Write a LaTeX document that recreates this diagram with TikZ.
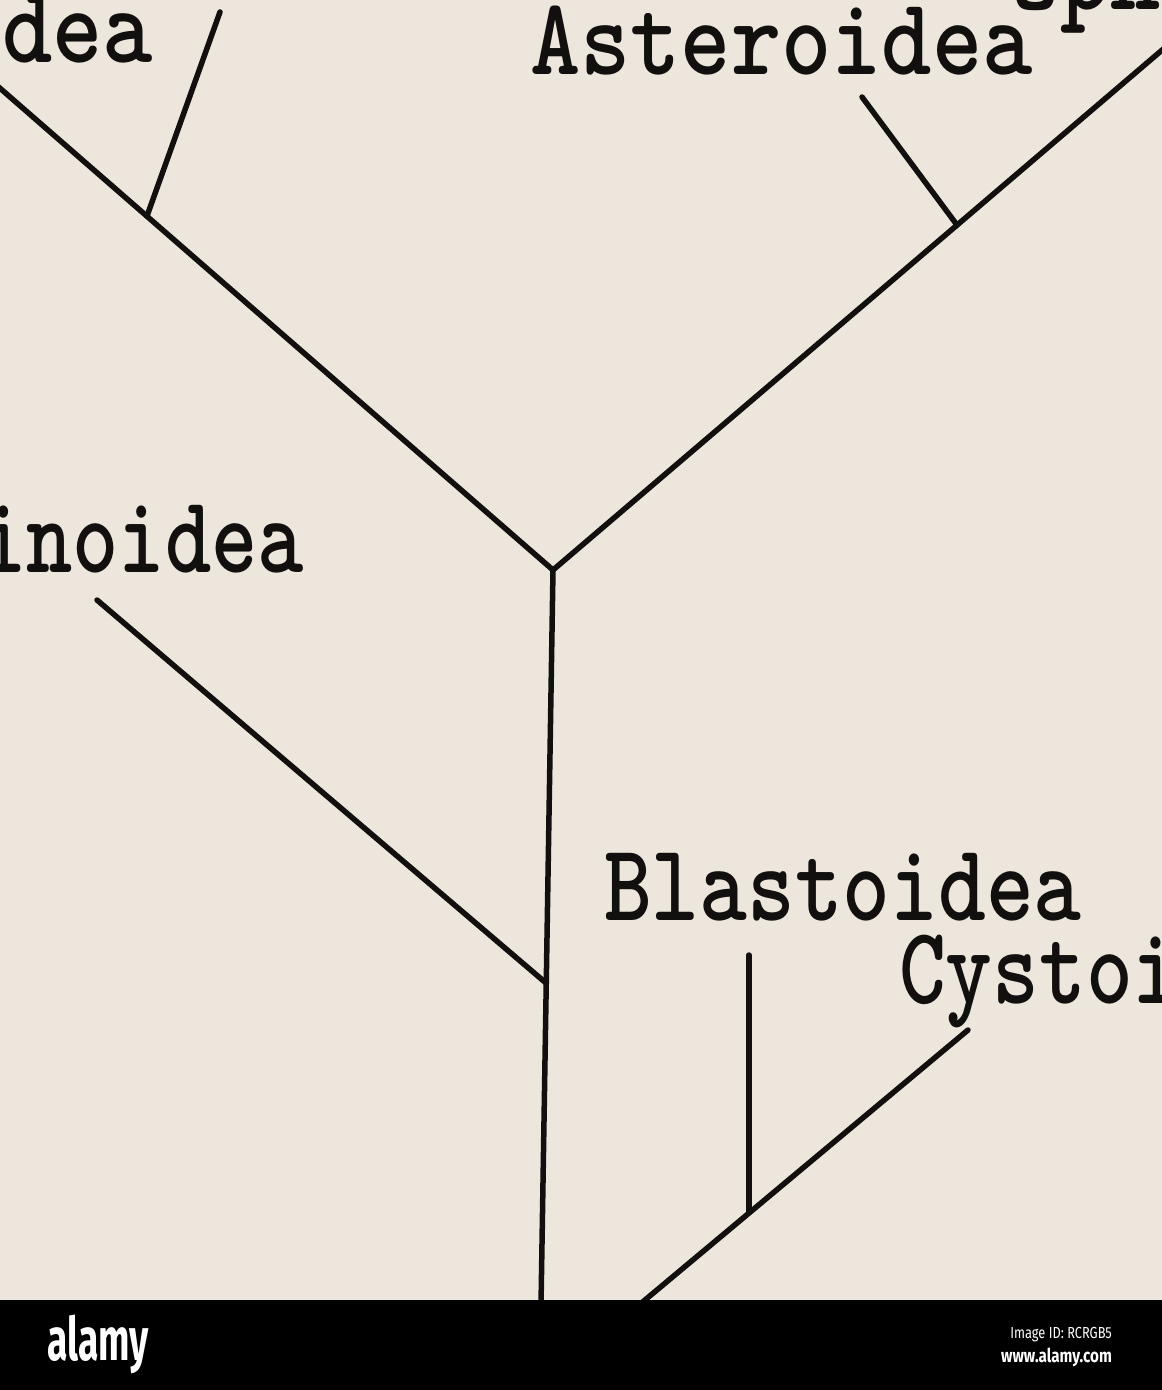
\documentclass[tikz,border=0pt]{standalone}
\usepackage{fontspec}
\newfontfamily\wmfont{Fira Sans}
\definecolor{paper}{RGB}{236,230,220}
\definecolor{ink}{RGB}{18,16,14}
\begin{document}
\begin{tikzpicture}[x=1pt,y=-1pt,
  branch/.style={draw=ink,line width=5.5pt,line cap=round,line join=miter},
  taxon/.style={font=\ttfamily\bfseries\fontsize{110}{112}\selectfont,text=ink,inner sep=0pt,anchor=base west,xscale=0.87},
  wm/.style={text=white,inner sep=0pt}]
\useasboundingbox (0,0) rectangle (1162,1390);
\clip (0,0) rectangle (1162,1390);
\fill[paper] (0,0) rectangle (1162,1390);

% junctions and ends
\coordinate (J) at (553,570);
\coordinate (Lend) at (-6,83);
\coordinate (Rend) at (1168,45);
\coordinate (Bot) at (541,1305);
\coordinate (Lfoot) at (147,216);
\coordinate (Ltip) at (220,12);
\coordinate (Afoot) at (957,225);
\coordinate (Atip) at (862,97);
\coordinate (Ctip) at (97,600);
\coordinate (Cfoot) at (546,983);
\coordinate (Ybot) at (639,1305);
\coordinate (Ytip) at (968,1030);
\coordinate (Bfoot) at (749,1212);
\coordinate (Btip) at (749,955);

% labels
\node[taxon] (dea) at (2,62) {dea};
\node[taxon] (aster) at (530,74) {Asteroidea};
\node[taxon] (oph) at (1010,9) {Oph};
\node[taxon,xscale=0.92] (crin) at (-20,572) {inoidea};
\node[taxon,xscale=0.95] (blast) at (604,920) {Blastoidea};
\node[taxon,xscale=0.93] (cyst) at (899,1003) {Cystoi};

% tree
\draw[branch] (Lend) -- (J) -- (Rend);
\draw[branch] (J) -- (Bot);
\draw[branch] (Lfoot) -- (Ltip);
\draw[branch] (Afoot) -- (Atip);
\draw[branch] (Ctip) -- (Cfoot);
\draw[branch] (Ybot) -- (Ytip);
\draw[branch] (Bfoot) -- (Btip);

% watermark band
\fill[black] (0,1300) rectangle (1162,1390);
\node[wm,anchor=base west,font=\wmfont\bfseries\fontsize{60}{62}\selectfont,xscale=0.62] (logo) at (47,1360) {alamy};
\node[wm,anchor=base east,font=\wmfont\fontsize{16}{18}\selectfont,xscale=0.8] (imgid) at (1112,1338) {Image ID: RCRGB5};
\node[wm,anchor=base east,font=\wmfont\bfseries\fontsize{19}{20}\selectfont,xscale=0.8] (www) at (1112,1362) {www.alamy.com};
\end{tikzpicture}
\end{document}
